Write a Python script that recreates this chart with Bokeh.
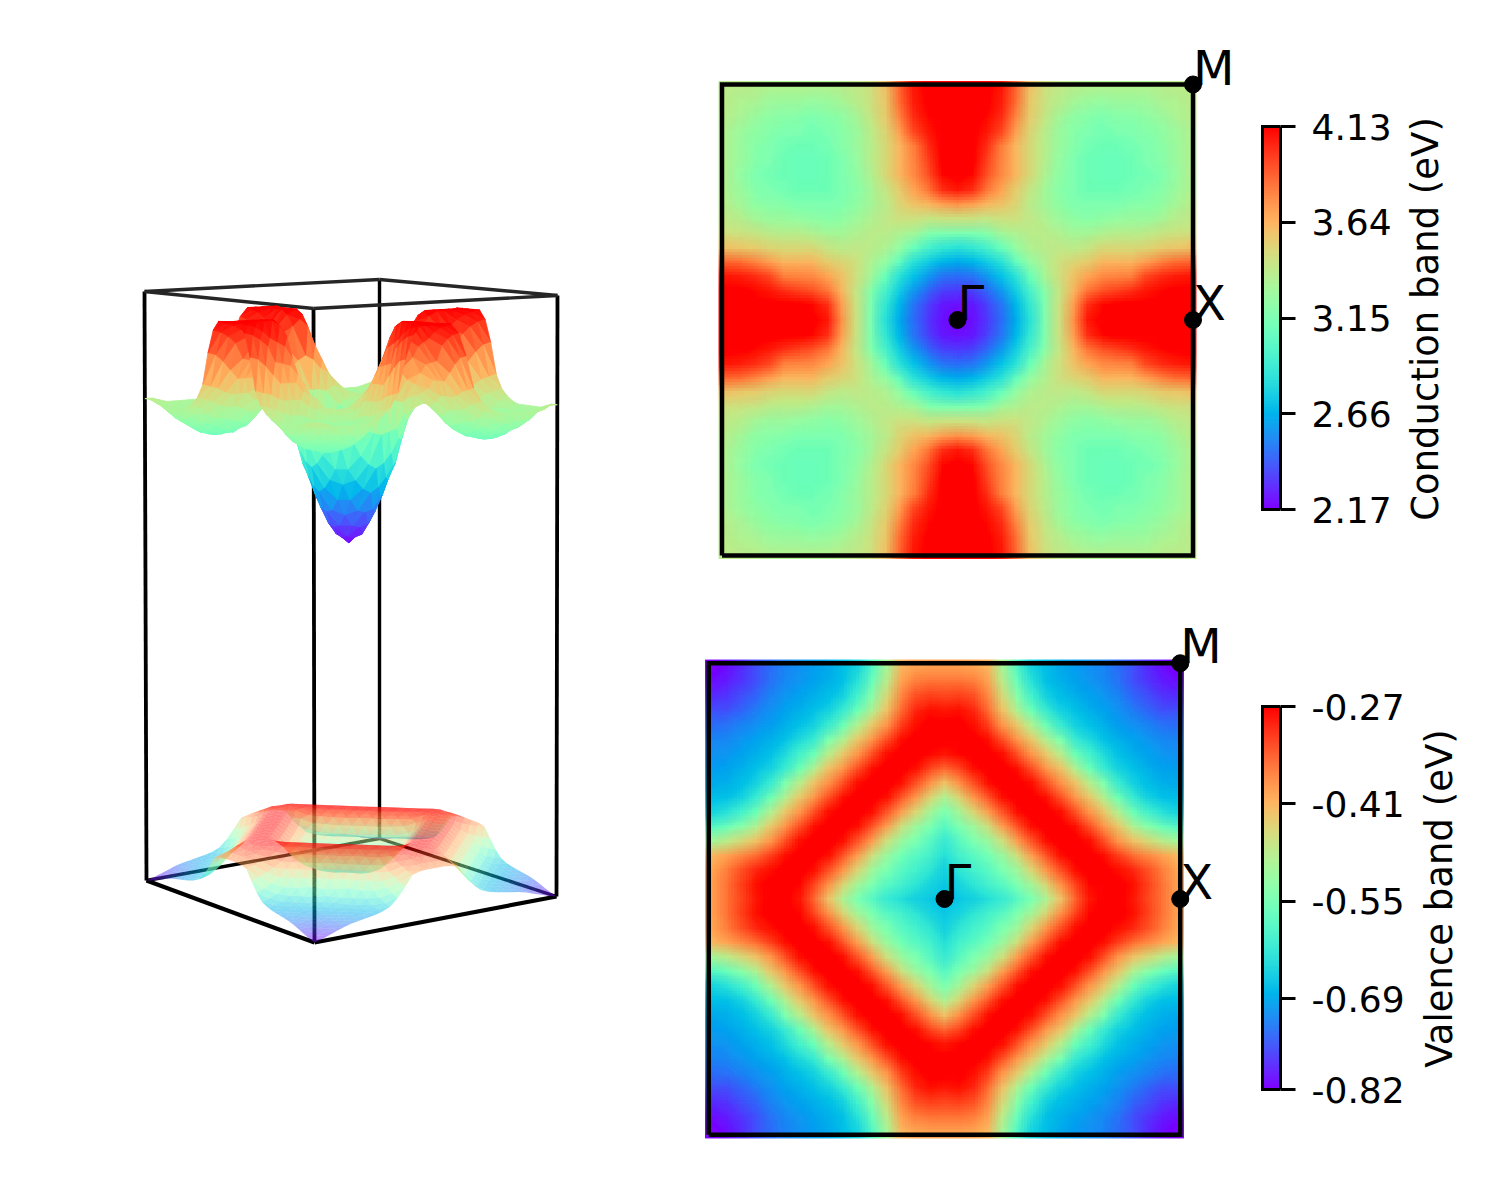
import math

import numpy as np
from bokeh.core.properties import value
from bokeh.embed import file_html
from bokeh.layouts import column, row
from bokeh.models import ColumnDataSource, FixedTicker, LinearAxis, LinearColorMapper, Range1d
from bokeh.plotting import figure
from bokeh.resources import INLINE
from bokeh.transform import transform

FONT = "DejaVu Sans"

# band edges and colour bar ticks
cond_low, cond_high = 2.17, 4.13
val_low, val_high = -0.82, -0.27
cond_ticks = [2.17, 2.66, 3.15, 3.64, 4.13]
val_ticks = [-0.82, -0.69, -0.55, -0.41, -0.27]
cond_label = "Conduction band (eV)"
val_label = "Valence band (eV)"

# k-points, in units of half the zone
kpoint_names = ["Γ", "X", "M"]
kpoint_x = [0, 1, 1]
kpoint_y = [0, 0, 1]

# each map is symmetric, so only the upper triangle of a quadrant is kept
# (Gamma first, M last), read off the picture as percent of the colour bar height
cond_pct = [
    [0, 3, 8, 15, 24, 35, 50, 65, 80, 96, 100, 100, 100, 100, 100, 100, 100],
    [4, 9, 16, 26, 37, 51, 65, 78, 93, 98, 100, 100, 100, 100, 100, 100],
    [14, 21, 30, 41, 52, 64, 74, 84, 89, 91, 93, 96, 98, 99, 100],
    [28, 35, 47, 58, 66, 72, 77, 81, 82, 83, 90, 93, 95, 96],
    [46, 55, 60, 66, 68, 70, 74, 74, 74, 78, 82, 85, 86],
    [60, 62, 63, 62, 64, 67, 67, 67, 68, 70, 71, 72],
    [62, 60, 58, 58, 60, 61, 61, 62, 64, 65, 66],
    [57, 54, 53, 54, 55, 56, 56, 58, 61, 63],
    [51, 50, 50, 50, 52, 53, 54, 58, 61],
    [48, 48, 48, 49, 50, 52, 56, 60],
    [47, 47, 48, 49, 51, 55, 60],
    [47, 48, 50, 52, 56, 60],
    [49, 51, 53, 56, 60],
    [52, 54, 57, 60],
    [56, 59, 61],
    [60, 62],
    [62],
]
val_pct = [
    [27, 29, 31, 34, 38, 44, 50, 60, 72, 86, 96, 100, 100, 96, 90, 84, 78],
    [32, 36, 40, 44, 50, 58, 68, 80, 90, 98, 100, 100, 97, 91, 84, 78],
    [40, 44, 50, 57, 68, 79, 89, 97, 100, 100, 97, 94, 89, 83, 77],
    [49, 56, 66, 78, 88, 97, 100, 100, 97, 91, 85, 81, 77, 74],
    [66, 78, 88, 97, 100, 100, 97, 89, 79, 72, 67, 62, 58],
    [88, 97, 100, 100, 97, 89, 79, 71, 60, 53, 47, 43],
    [100, 100, 97, 89, 79, 71, 60, 48, 40, 35, 32],
    [97, 89, 79, 71, 60, 48, 38, 31, 28, 27],
    [80, 72, 61, 50, 38, 31, 27, 25, 24],
    [60, 48, 38, 31, 28, 25, 23, 22],
    [40, 33, 28, 25, 23, 21, 20],
    [28, 25, 23, 21, 19, 18],
    [22, 20, 18, 16, 15],
    [17, 14, 11, 11],
    [11, 8, 7],
    [5, 3],
    [0],
]

# 3d box as seen on the page (pixels): front, right, left, back
box_bottom = [(314, 942), (556, 896), (146, 880), (379, 838)]
box_top = [(313, 308), (557, 295), (144, 291), (379, 279)]
z_low, z_high = -0.82, 4.32


def rainbow_palette(n=256):
    # same ramp as matplotlib's "rainbow"
    out = []
    for t in np.linspace(0, 1, n):
        r = min(abs(2 * t - 0.5), 1)
        g = math.sin(math.pi * t)
        b = math.cos(math.pi * t / 2)
        out.append("#%02x%02x%02x" % (round(r * 255), round(g * 255), round(b * 255)))
    return out


RAINBOW = rainbow_palette()


def full_zone(pct, low, high):
    # fill the quadrant from its triangle, mirror it over the zone, turn it into eV
    n = len(pct)
    q = np.zeros((n, n))
    for j, vals in enumerate(pct):
        q[j, j:] = vals
        q[j:, j] = vals
    right = np.hstack([q[:, :0:-1], q])
    whole = np.vstack([right[:0:-1], right])
    return low + (high - low) * whole / 100


def project(u, v, e):
    a, b = (u + 1) / 2, (v + 1) / 2
    c = (e - z_low) / (z_high - z_low)
    w = [(1 - a) * (1 - b), a * (1 - b), (1 - a) * b, a * b]
    lo_x = sum(wi * p[0] for wi, p in zip(w, box_bottom))
    lo_y = sum(wi * p[1] for wi, p in zip(w, box_bottom))
    hi_x = sum(wi * p[0] for wi, p in zip(w, box_top))
    hi_y = sum(wi * p[1] for wi, p in zip(w, box_top))
    return lo_x + (hi_x - lo_x) * c, lo_y + (hi_y - lo_y) * c


def add_surface(p, energy, low, high, alpha, edge):
    n = energy.shape[0]
    k = np.linspace(-1, 1, n)
    cells = [(i, j) for i in range(n - 1) for j in range(n - 1)]
    cells.sort(key=lambda c: -(c[0] + c[1]))  # far corner first
    xs, ys, es = [], [], []
    for i, j in cells:
        c00, c10, c11, c01 = (i, j), (i + 1, j), (i + 1, j + 1), (i, j + 1)
        # cut each cell along its flatter diagonal, keeps the ridges clean
        if abs(energy[j, i] - energy[j + 1, i + 1]) <= abs(energy[j, i + 1] - energy[j + 1, i]):
            tris = [(c00, c10, c11), (c00, c11, c01)]
        else:
            tris = [(c10, c11, c01), (c00, c10, c01)]
        for tri in tris:
            pts = [project(k[ci], k[cj], energy[cj, ci]) for ci, cj in tri]
            xs.append([pt[0] for pt in pts])
            ys.append([pt[1] for pt in pts])
            es.append(float(np.mean([energy[cj, ci] for ci, cj in tri])))
    source = ColumnDataSource(data=dict(xs=xs, ys=ys, e=es))
    mapper = LinearColorMapper(palette=RAINBOW, low=low, high=high)
    p.patches("xs", "ys", source=source, fill_color=transform("e", mapper), fill_alpha=alpha,
              line_color=transform("e", mapper) if edge else None, line_width=edge, line_alpha=alpha)


def make_box_panel():
    p = figure(frame_width=680, frame_height=1184, x_range=Range1d(0, 680), y_range=Range1d(1184, 0),
               output_backend="svg", toolbar_location=None, min_border=0, outline_line_color=None)
    p.axis.visible = False
    p.grid.visible = False

    front, right, left, back = box_bottom
    tfront, tright, tleft, tback = box_top
    for a, b in [(left, back), (back, right), (back, tback)]:
        p.line([a[0], b[0]], [a[1], b[1]], color="#000000", line_width=3.4)
    for a, b in [(left, tleft), (right, tright), (front, tfront)]:
        p.line([a[0], b[0]], [a[1], b[1]], color="#000000", line_width=3.8)
    for a, b in [(tleft, tback), (tback, tright), (tleft, tfront), (tfront, tright)]:
        p.line([a[0], b[0]], [a[1], b[1]], color="#262626", line_width=3.4)
    for a, b in [(left, front), (front, right)]:
        p.line([a[0], b[0]], [a[1], b[1]], color="#000000", line_width=4.2)

    add_surface(p, full_zone(val_pct, val_low, val_high), val_low, val_high, 0.5, 0)
    add_surface(p, full_zone(cond_pct, cond_low, cond_high), cond_low, cond_high, 1.0, 0.8)
    return p


def make_map(pct, low, high, cx, cy, half, img_half, top_px):
    # panel covers x 680..1240 and 592px of height, square drawn at +-1
    p = figure(frame_width=560, frame_height=592,
               x_range=Range1d((680 - cx) / half, (1240 - cx) / half),
               y_range=Range1d((cy - top_px - 592) / half, (cy - top_px) / half),
               output_backend="svg", toolbar_location=None, min_border=0, outline_line_color=None)
    p.axis.visible = False
    p.grid.visible = False

    energy = full_zone(pct, low, high)
    ext = img_half / half
    cell = 2 * ext / energy.shape[0]
    mapper = LinearColorMapper(palette=RAINBOW, low=low, high=high)
    # bokeh paints image cells hard edged, so stack shifted see-through copies to soften them
    shifts = [0, -0.4, -0.2, 0.2, 0.4]
    copies = [(dx, dy) for dy in shifts for dx in shifts]
    copies.sort(key=lambda s: abs(s[0]) + abs(s[1]))
    for n, (dx, dy) in enumerate(copies, start=1):
        p.image(image=[energy], x=-ext + dx * cell, y=-ext + dy * cell, dw=2 * ext, dh=2 * ext,
                color_mapper=mapper, global_alpha=1 / n)
    # trim what the shifted copies leave outside the map
    p.quad(left=[-ext - cell, ext, -ext - cell, -ext - cell], right=[-ext, ext + cell, ext + cell, ext + cell],
           bottom=[-ext - cell, -ext - cell, -ext - cell, ext], top=[ext + cell, ext + cell, -ext, ext + cell],
           fill_color="white", line_color=None)

    p.line([-1, 1, 1, -1, -1], [-1, -1, 1, 1, -1], color="black", line_width=4.5, line_join="miter")
    p.scatter(kpoint_x, kpoint_y, size=17, color="black")
    p.text(kpoint_x, kpoint_y, text=kpoint_names, text_font=value(FONT), text_font_size="48px",
           text_color="black", text_align="left", text_baseline="alphabetic", y_offset=-17)
    return p


def make_colorbar(low, high, ticks, bar_top, right_px):
    # frame is as tall as the map next to it, the bar itself is 383px of it
    per_px = (high - low) / 383
    p = figure(frame_width=40, frame_height=592, x_range=Range1d(0, 40),
               y_range=Range1d(high - (592 - bar_top) * per_px, high + bar_top * per_px),
               output_backend="svg", toolbar_location=None, y_axis_location=None, x_axis_location=None,
               min_border_left=0, min_border_right=right_px - 1280, min_border_top=0, min_border_bottom=0,
               outline_line_color=None)
    p.grid.visible = False
    ramp = np.linspace(low, high, 256).reshape(256, 1)
    mapper = LinearColorMapper(palette=RAINBOW, low=low, high=high)
    p.image(image=[ramp], x=22, y=low, dw=18, dh=high - low, color_mapper=mapper)
    p.line([40, 22, 22, 40], [low, low, high, high], color="black", line_width=3, line_join="miter")

    axis = LinearAxis(ticker=FixedTicker(ticks=ticks), bounds=(low, high))
    axis.major_label_overrides = {t: f"{t:.2f}" for t in ticks}
    axis.major_tick_out = 15
    axis.major_tick_in = 0
    axis.major_tick_line_width = 3
    axis.minor_tick_line_color = None
    axis.axis_line_color = "black"
    axis.axis_line_width = 3
    axis.major_label_standoff = 16
    axis.major_label_text_font = FONT
    axis.major_label_text_font_size = "36px"
    axis.major_label_text_color = "black"
    p.add_layout(axis, "right")
    return p


def make_bar_title(label, left_px, x_px, y_px):
    # bar title sits in its own strip so it can be centred on the bar, not on the frame
    p = figure(frame_width=1492 - left_px, frame_height=592, x_range=Range1d(left_px, 1492),
               y_range=Range1d(592, 0), output_backend="svg", toolbar_location=None, min_border=0,
               outline_line_color=None)
    p.axis.visible = False
    p.grid.visible = False
    p.text([x_px], [y_px], text=[label], angle=math.pi / 2, text_font=value(FONT), text_font_size="37px",
           text_color="black", text_align="center", text_baseline="middle")
    return p


left_panel = make_box_panel()
cond_map = make_map(cond_pct, cond_low, cond_high, 957, 319.5, 235.5, 239, 0)
val_map = make_map(val_pct, val_low, val_high, 944, 898.5, 235.75, 239.5, 592)
cond_bar = make_colorbar(cond_low, cond_high, cond_ticks, 126, 1396)
val_bar = make_colorbar(val_low, val_high, val_ticks, 114, 1406)
cond_title = make_bar_title(cond_label, 1396, 1425, 318.5)
val_title = make_bar_title(val_label, 1406, 1438, 306)

page = row(left_panel, column(row(cond_map, cond_bar, cond_title), row(val_map, val_bar, val_title)))

open("out.html", "w").write(file_html(page, INLINE))
